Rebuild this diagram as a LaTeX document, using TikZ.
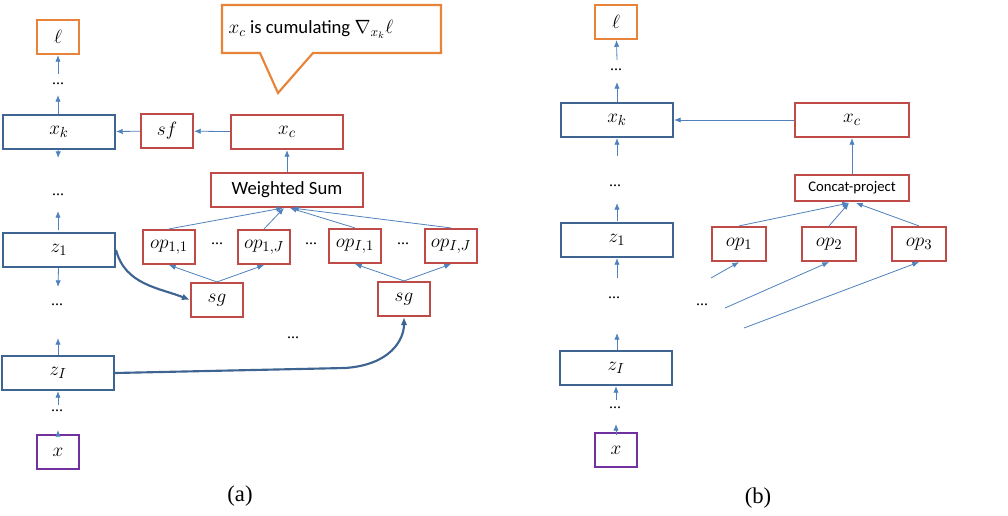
\documentclass[tikz,border=0pt]{standalone}
\usepackage{fontspec}
\setmainfont{Liberation Serif}
\newfontfamily\carl{Carlito}
\usetikzlibrary{arrows.meta}
\definecolor{bblue}{HTML}{3E6491}
\definecolor{rred}{HTML}{BE4B48}
\definecolor{oorange}{HTML}{E8833A}
\definecolor{ppurple}{HTML}{7030A0}
\definecolor{aarrow}{HTML}{4F81BD}
\begin{document}
\begin{tikzpicture}[x=0.75pt,y=-0.75pt,
  box/.style={draw,line width=1.6pt,minimum height=25.5pt,inner sep=0pt,font=\fontsize{15}{18}\selectfont},
  bl/.style={box,draw=bblue,minimum width=84pt},
  rd/.style={box,draw=rred},
  ar/.style={draw=aarrow,line width=0.6pt,-{Latex[length=5pt,width=4pt]}},
  cv/.style={draw=bblue,line width=1.6pt,-{Latex[length=6pt,width=5pt]}},
  dt/.style={font=\large}]
\path[use as bounding box] (0,0) rectangle (1008,515);
% ---------- panel (a)
\node[box,draw=oorange,minimum width=31.5pt] (la) at (58,37) {$\ell$};
\node[dt] (d1a) at (58,84) {...};
\node[bl] (xka) at (59,132) {$x_k$};
\node[dt] (d2a) at (58,195) {...};
\node[bl] (z1a) at (59,250) {$z_1$};
\node[dt] (d3a) at (57,305) {...};
\node[bl] (zIa) at (58,373) {$z_I$};
\node[dt] (d4a) at (57,411) {...};
\node[box,draw=ppurple,minimum width=31.5pt] (xa) at (58,452) {$x$};
\draw[ar] (58,74) -- (la);
\draw[ar] (58,114) -- (58,95);
\draw[ar] (xka) -- (58,158);
\draw[ar] (58,230) -- (58,211);
\draw[ar] (z1a) -- (58,287);
\draw[ar] (zIa) -- (58,338);
\draw[ar] (58,405) -- (zIa);
\draw[ar] (xa) -- (58,430);
\node[rd,minimum width=39pt] (sf) at (167,131) {$sf$};
\node[rd,minimum width=84pt] (xca) at (287,132) {$x_c$};
\draw[ar] (xca) -- (sf);
\draw[ar] (sf) -- (xka);
\node[rd,minimum width=114pt,font=\carl\fontsize{14}{16}\selectfont] (ws) at (287,190) {Weighted Sum};
\draw[ar] (ws) -- (xca);
\node[rd,minimum width=39pt] (o11) at (169,247) {$op_{1,1}$};
\node[rd,minimum width=39pt] (o1J) at (264,247) {$op_{1,J}$};
\node[rd,minimum width=39pt] (oI1) at (355,246) {$op_{I,1}$};
\node[rd,minimum width=39pt] (oIJ) at (451,246) {$op_{I,J}$};
\node[dt] at (217,244) {...};
\node[dt] at (311,244) {...};
\node[dt] at (403,244) {...};
\foreach \n/\t in {o11/283,o1J/284,oI1/290,oIJ/292} \draw[ar] (\n.north) -- (\t,208);
\node[rd,minimum width=39pt] (sg1) at (217,300) {$sg$};
\node[rd,minimum width=39pt] (sg2) at (404,299) {$sg$};
\draw[ar] (sg1.north) -- (o11.south);
\draw[ar] (sg1.north) -- (o1J.south);
\draw[ar] (sg2.north) -- (oI1.south);
\draw[ar] (sg2.north) -- (oIJ.south);
\node[dt] at (293,338) {...};
\draw[cv] (z1a.east) .. controls (125,285) and (160,288) .. (sg1.west);
\draw[cv] (zIa.east) -- (345,368) .. controls (390,365) and (404,340) .. (sg2.south);
\draw[oorange,line width=1.6pt] (222,5) -- (441,5) -- (441,53) -- (313,53) -- (278,93) -- (260,53) -- (222,53) -- cycle;
\node[anchor=west,font=\carl\fontsize{14}{16}\selectfont] (callout) at (224,29) {$x_c$ is cumulating $\nabla_{x_k}\ell$};
\node[font=\fontsize{17}{20}\selectfont] (capa) at (240,496) {(a)};
% ---------- panel (b)
\node[box,draw=oorange,minimum width=31.5pt] (lb) at (616,22) {$\ell$};
\node[dt] (d1b) at (616,70) {...};
\node[bl] (xkb) at (617,120) {$x_k$};
\node[dt] (d2b) at (615,186) {...};
\node[bl] (z1b) at (617,240) {$z_1$};
\node[dt] (d3b) at (614,298) {...};
\node[bl] (zIb) at (616,368) {$z_I$};
\node[dt] (d4b) at (615,408) {...};
\node[box,draw=ppurple,minimum width=31.5pt] (xb) at (616,450) {$x$};
\draw[ar] (617,60) -- (lb);
\draw[ar] (617,102) -- (617,82);
\draw[ar] (617,156) -- (xkb);
\draw[ar] (617,221) -- (617,203);
\draw[ar] (617,278) -- (z1b);
\draw[ar] (617,350) -- (617,333);
\draw[ar] (616,400) -- (zIb);
\draw[ar] (616,435) -- (616,424);
\node[rd,minimum width=85.5pt] (xcb) at (852,120) {$x_c$};
\draw[ar] (xcb) -- (xkb);
\node[rd,minimum width=85.5pt,minimum height=20pt,font=\carl\fontsize{11}{13}\selectfont] (cp) at (852,188) {Concat-project};
\draw[ar] (cp) -- (xcb);
\node[rd,minimum width=40pt] (op1) at (739,244) {$op_1$};
\node[rd,minimum width=40pt] (op2) at (829,244) {$op_2$};
\node[rd,minimum width=40pt] (op3) at (919,244) {$op_3$};
\draw[ar] (op1.north) -- (849,203);
\draw[ar] (op2.north) -- (849,203);
\draw[ar] (op3.north) -- (856,203);
\coordinate (s1) at (711,278);
\coordinate (s2) at (725,308);
\coordinate (s3) at (744,328);
\draw[ar] (s1) -- (op1.south);
\draw[ar] (s2) -- (op2.south);
\draw[ar] (s3) -- (op3.south);
\node[dt] at (702,305) {...};
\node[font=\fontsize{17}{20}\selectfont] (capb) at (758,498) {(b)};
\end{tikzpicture}
\end{document}
